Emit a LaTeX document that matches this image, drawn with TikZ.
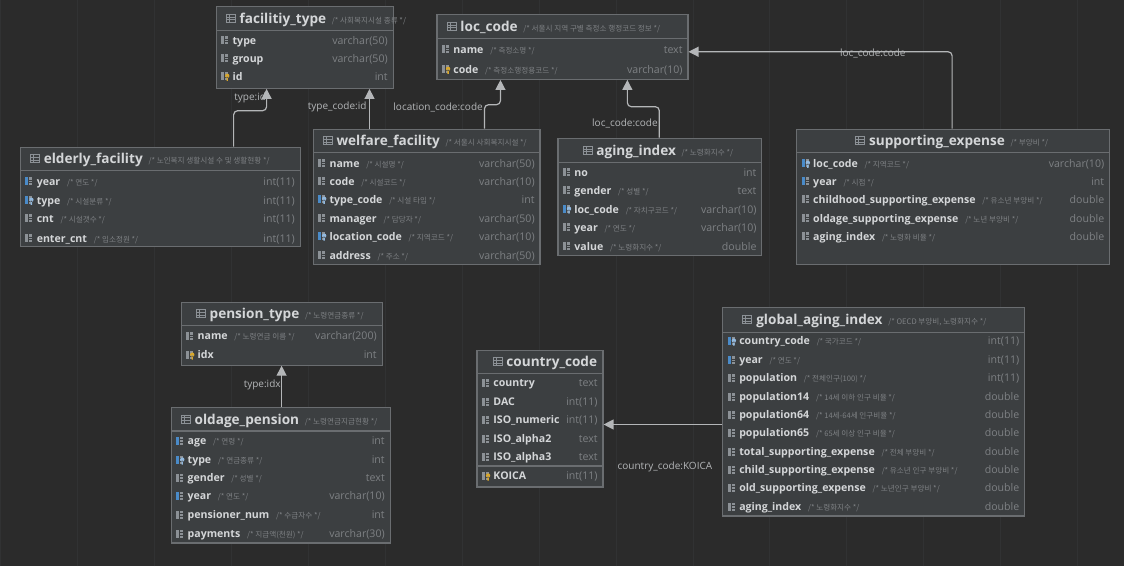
\documentclass[tikz,border=0pt]{standalone}
\usepackage{fontspec}
\setmainfont{Open Sans}
\newfontfamily\kr{Noto Sans CJK KR}
\usetikzlibrary{fit,arrows.meta}

\definecolor{bg}{HTML}{2B2B2B}
\definecolor{gridc}{HTML}{313233}
\definecolor{tblfill}{HTML}{3C3F41}
\definecolor{tblline}{HTML}{6A6D70}
\definecolor{txt}{HTML}{D4D6D8}
\definecolor{cmtc}{HTML}{7E8184}
\definecolor{conn}{HTML}{B4B6B8}
\definecolor{icog}{HTML}{8C9196}
\definecolor{icob}{HTML}{4A8BC9}
\definecolor{icok}{HTML}{D9A72A}

\tikzset{
    tbl/.style={draw=tblline, fill=tblfill, line width=0.6pt, inner sep=0pt},
    ttl/.style={font=\bfseries\fontsize{6.8}{8}\selectfont, text=txt, anchor=base west, inner sep=0pt},
    cmt/.style={font=\kr\fontsize{3.8}{4}\selectfont, text=cmtc, anchor=base west, inner sep=0pt},
    fld/.style={font=\bfseries\fontsize{5.3}{6}\selectfont, text=txt, anchor=base west, inner sep=0pt},
    typ/.style={font=\fontsize{5.3}{6}\selectfont, text=cmtc, anchor=base east, inner sep=0pt},
    fk/.style={draw=conn, line width=0.6pt, rounded corners=2pt,
            -{Triangle[length=5pt,width=5pt,fill=conn]}},
    lbl/.style={font=\fontsize{5}{6}\selectfont, text=conn, inner sep=0pt}
}

\def\icI{i}\def\icK{k}\def\icF{f}
% column icon
\newcommand\erIcon[3]{%
    \edef\ic{#3}%
    \fill[icog] (#1+5,#2-4) rectangle (#1+12,#2+4);
    \ifx\ic\icI \fill[icob] (#1+5,#2-4) rectangle (#1+8,#2+4);\fi
    \ifx\ic\icF \fill[icob] (#1+5,#2-4) rectangle (#1+8,#2+4);\fi
    \draw[tblfill, line width=0.3pt] (#1+8,#2-4) -- (#1+8,#2+4)
        (#1+8,#2-1.3) -- (#1+12,#2-1.3) (#1+8,#2+1.3) -- (#1+12,#2+1.3);
    \ifx\ic\icK \fill[icok] (#1+11,#2-0.5) circle (2.2) (#1+10.3,#2) rectangle (#1+11.7,#2+4.5);\fi
    \ifx\ic\icF \fill[icob!60!white] (#1+11,#2-0.5) circle (2.2) (#1+10.3,#2) rectangle (#1+11.7,#2+4.5);\fi
}
% table box and header
\newcommand\erTable[9]{%
    \node[tbl, fit={(#2,#3) (#4,#5)}] (#1) {};
    \draw[tblline, line width=0.6pt] (#2,#6) -- (#4,#6);
    \draw[icog, line width=0.4pt] (#7-13,{(#3+#6)/2-4}) rectangle (#7-4,{(#3+#6)/2+4})
        (#7-13,{(#3+#6)/2-1.3}) -- (#7-4,{(#3+#6)/2-1.3})
        (#7-13,{(#3+#6)/2+1.3}) -- (#7-4,{(#3+#6)/2+1.3})
        (#7-10,{(#3+#6)/2-4}) -- (#7-10,{(#3+#6)/2+4});
    \node[ttl] (#1title) at (#7,{(#3+#6)/2+5}) {#8};
    \node[cmt] at ([xshift=2.5pt]#1title.base east) {#9};
}
% one column row
\newcommand\erRow[7]{%
    \erIcon{#1}{#3}{#4}
    \node[fld] (fname) at (#1+16,#3+3.8) {#5};
    \edef\tmp{#6}%
    \ifx\tmp\empty\else \node[cmt] at ([xshift=3pt]fname.base east) {/* #6 */};\fi
    \node[typ] at (#2-5,#3+3.8) {#7};
}

\begin{document}
\begin{tikzpicture}[x=0.5pt, y=-0.5pt]
    % background
    \fill[bg] (0,0) rectangle (1124,566);
    \draw[gridc, line width=0.4pt, step=77] (0,0) grid (1124,566);
    \useasboundingbox (0,0) rectangle (1124,566);

    % upper tables
    \erTable{factype}{216}{6}{393}{88}{30}{239}{facilitiy\_type}{/* 사회복지시설 종류 */}
    \foreach \y/\ic/\f/\c/\t in {40/c/type//varchar(50), 58/c/group//varchar(50), 76/k/id//int}
        {\erRow{216}{393}{\y}{\ic}{\f}{\c}{\t}}

    \erTable{loccode}{437}{14}{688}{79}{38}{460}{loc\_code}{/* 서울시 지역 구별 측정소 행정코드 정보 */}
    \foreach \y/\ic/\f/\c/\t in {49/c/name/측정소명/text, 69/k/code/측정소행정용코드/varchar(10)}
        {\erRow{437}{688}{\y}{\ic}{\f}{\c}{\t}}

    \erTable{elderly}{20}{147}{300}{246}{170}{43}{elderly\_facility}{/* 노인복지 생활시설 수 및 생활현황 */}
    \foreach \y/\ic/\f/\c/\t in {181/i/year/연도/int(11), 200/f/type/시설분류/int(11),
            218/c/cnt/시설갯수/int(11), 238/c/enter\_cnt/입소정원/int(11)}
        {\erRow{20}{300}{\y}{\ic}{\f}{\c}{\t}}

    \erTable{welfare}{313}{129}{540}{264}{152}{336}{welfare\_facility}{/* 서울시 사회복지시설 */}
    \foreach \y/\ic/\f/\c/\t in {163/c/name/시설명/varchar(50), 181/c/code/시설코드/varchar(10),
            199/f/type\_code/시설 타입/int, 218/c/manager/담당자/varchar(50),
            236/f/location\_code/지역코드/varchar(10), 255/c/address/주소/varchar(50)}
        {\erRow{313}{540}{\y}{\ic}{\f}{\c}{\t}}

    \erTable{aging}{558}{138}{762}{255}{162}{596}{aging\_index}{/* 노령화지수 */}
    \foreach \y/\ic/\f/\c/\t in {172/c/no//int, 190/c/gender/성별/text,
            209/f/loc\_code/자치구코드/varchar(10), 227/c/year/연도/varchar(10),
            246/c/value/노령화지수/double}
        {\erRow{558}{762}{\y}{\ic}{\f}{\c}{\t}}

    \erTable{supporting}{797}{129}{1110}{264}{152}{869}{supporting\_expense}{/* 부양비 */}
    \foreach \y/\ic/\f/\c/\t in {163/f/loc\_code/지역코드/varchar(10), 181/i/year/시점/int,
            199/c/childhood\_supporting\_expense/유소년 부양비/double,
            218/c/oldage\_supporting\_expense/노년 부양비/double,
            236/c/aging\_index/노령화 비율/double}
        {\erRow{797}{1110}{\y}{\ic}{\f}{\c}{\t}}

    % lower tables
    \erTable{pensiontype}{181}{302}{382}{365}{325}{209}{pension\_type}{/* 노령연금종류 */}
    \foreach \y/\ic/\f/\c/\t in {336/c/name/노령연금 이름/varchar(200), 355/k/idx//int}
        {\erRow{181}{382}{\y}{\ic}{\f}{\c}{\t}}

    \erTable{oldpension}{171}{407}{390}{543}{431}{194}{oldage\_pension}{/* 노령연금지급현황 */}
    \foreach \y/\ic/\f/\c/\t in {441/i/age/연령/int, 460/f/type/연금종류/int, 478/c/gender/성별/text,
            496/i/year/연도/varchar(10), 515/c/pensioner\_num/수급자수/int,
            534/c/payments/지급액(천원)/varchar(30)}
        {\erRow{171}{390}{\y}{\ic}{\f}{\c}{\t}}

    \erTable{country}{477}{350}{603}{487}{373}{506}{country\_code}{}
    \foreach \y/\ic/\f/\c/\t in {383/c/country//text, 402/c/DAC//int(11), 420/c/ISO\_numeric//int(11),
            439/c/ISO\_alpha2//text, 457/c/ISO\_alpha3//text, 476/k/KOICA//int(11)}
        {\erRow{477}{603}{\y}{\ic}{\f}{\c}{\t}}
    \draw[tblline, line width=0.6pt] (477,466) -- (603,466);

    \erTable{global}{723}{307}{1025}{516}{332}{756}{global\_aging\_index}{/* OECD 부양비, 노령화지수 */}
    \foreach \y/\ic/\f/\c/\t in {341/f/country\_code/국가코드/int(11), 360/i/year/연도/int(11),
            378/c/population/전체인구(100)/int(11), 397/c/population14/14세 이하 인구 비율/double,
            415/c/population64/14세-64세 인구비율/double, 433/c/population65/65세 이상 인구 비율/double,
            452/c/total\_supporting\_expense/전체 부양비/double,
            470/c/child\_supporting\_expense/유소년 인구 부양비/double,
            488/c/old\_supporting\_expense/노년인구 부양비/double,
            507/c/aging\_index/노령화지수/double}
        {\erRow{723}{1025}{\y}{\ic}{\f}{\c}{\t}}

    % references
    \draw[fk] ([xshift=107pt]elderly.north west) -- ++(0,-36) -| ([xshift=25.5pt]factype.south west);
    \node[lbl] at (250,98) {type:id};
    \draw[fk] ([xshift=28.5pt]welfare.north west) -- ([xshift=77pt]factype.south west);
    \node[lbl] at (337,107) {type\_code:id};
    \draw[fk] ([xshift=86pt]welfare.north west) -- ++(0,-24) -| ([xshift=32pt]loccode.south west);
    \node[lbl] at (438,107) {location\_code:code};
    \draw[fk] ([xshift=51pt]aging.north west) -- ++(0,-31) -| ([xshift=95.5pt]loccode.south west);
    \node[lbl] at (625,123) {loc\_code:code};
    \draw[fk] ([xshift=78pt]supporting.north west) |- ([yshift=-19pt]loccode.north east);
    \node[lbl] at (873,53) {loc\_code:code};
    \draw[fk] ([xshift=55.5pt]oldpension.north west) -- ([xshift=50.5pt]pensiontype.south west);
    \node[lbl] at (262,385) {type:idx};
    \draw[fk] ([yshift=-59pt]global.north west) -- ([yshift=-59pt]global.north west -| country.east);
    \node[lbl] at (665,467) {country\_code:KOICA};
\end{tikzpicture}
\end{document}
